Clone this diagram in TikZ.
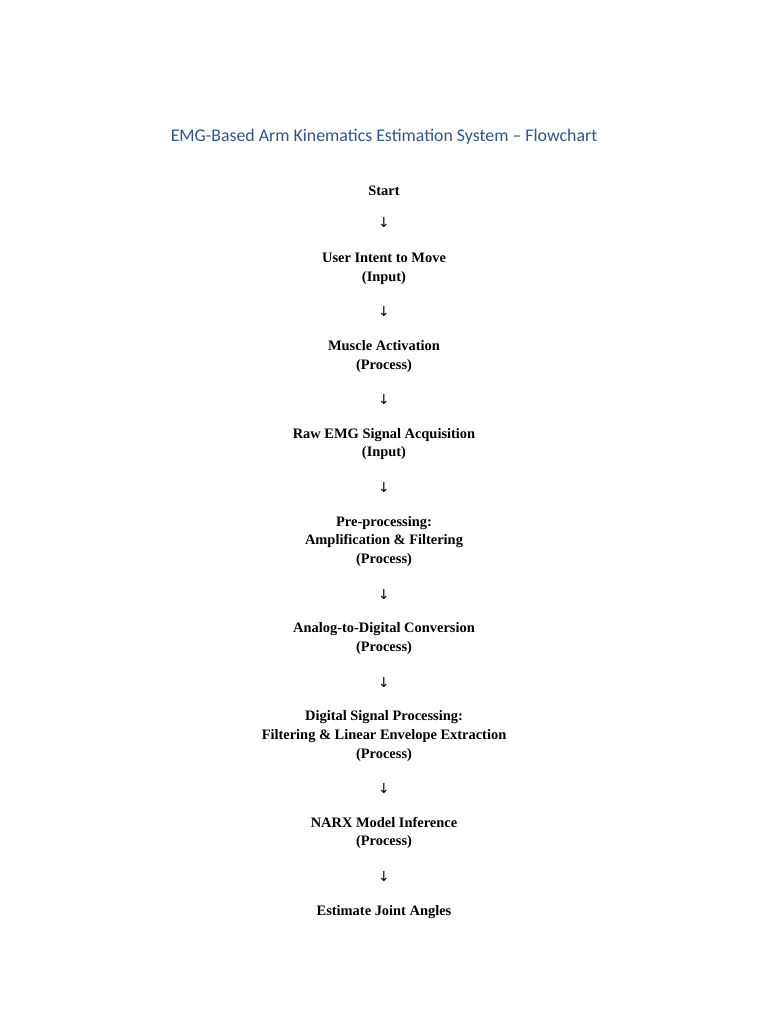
\documentclass[tikz,border=0pt]{standalone}
\usepackage{fontspec}
\setmainfont{Liberation Serif}
\newfontfamily\titlefont{Carlito}
\newfontfamily\arrowfont{DejaVu Sans}
\definecolor{headblue}{RGB}{47,84,150}
\tikzset{
  stage/.style={font=\bfseries\fontsize{11.5}{15}\selectfont, align=center, inner sep=0pt},
  downglyph/.style={font=\arrowfont\fontsize{11}{12}\selectfont, inner sep=0pt}
}
\begin{document}
\begin{tikzpicture}[x=0.796875pt,y=-0.796875pt]
  %% page
  \useasboundingbox (0,0) rectangle (768,1024);

  %% title
  \node[font=\titlefont\fontsize{14.2}{16}\selectfont, text=headblue, inner sep=0pt] (title) at (384,137)
    {EMG-Based Arm Kinematics Estimation System – Flowchart};

  %% steps
  \node[stage] (start) at (384,191) {Start};
  \node[downglyph] (a1) at (384,222) {↓};
  \node[stage] (intent) at (384,268.5) {User Intent to Move\\(Input)};
  \node[downglyph] (a2) at (384,311) {↓};
  \node[stage] (muscle) at (384,356.5) {Muscle Activation\\(Process)};
  \node[downglyph] (a3) at (384,399) {↓};
  \node[stage] (raw) at (384,444) {Raw EMG Signal Acquisition\\(Input)};
  \node[downglyph] (a4) at (384,487) {↓};
  \node[stage] (pre) at (384,541.5) {Pre-processing:\\Amplification \& Filtering\\(Process)};
  \node[downglyph] (a5) at (384,594) {↓};
  \node[stage] (adc) at (384,638.5) {Analog-to-Digital Conversion\\(Process)};
  \node[downglyph] (a6) at (384,682) {↓};
  \node[stage] (dsp) at (384,736) {Digital Signal Processing:\\Filtering \& Linear Envelope Extraction\\(Process)};
  \node[downglyph] (a7) at (384,788) {↓};
  \node[stage] (narx) at (384,833) {NARX Model Inference\\(Process)};
  \node[downglyph] (a8) at (384,876) {↓};
  \node[stage] (joint) at (384,912) {Estimate Joint Angles};

\end{tikzpicture}
\end{document}
